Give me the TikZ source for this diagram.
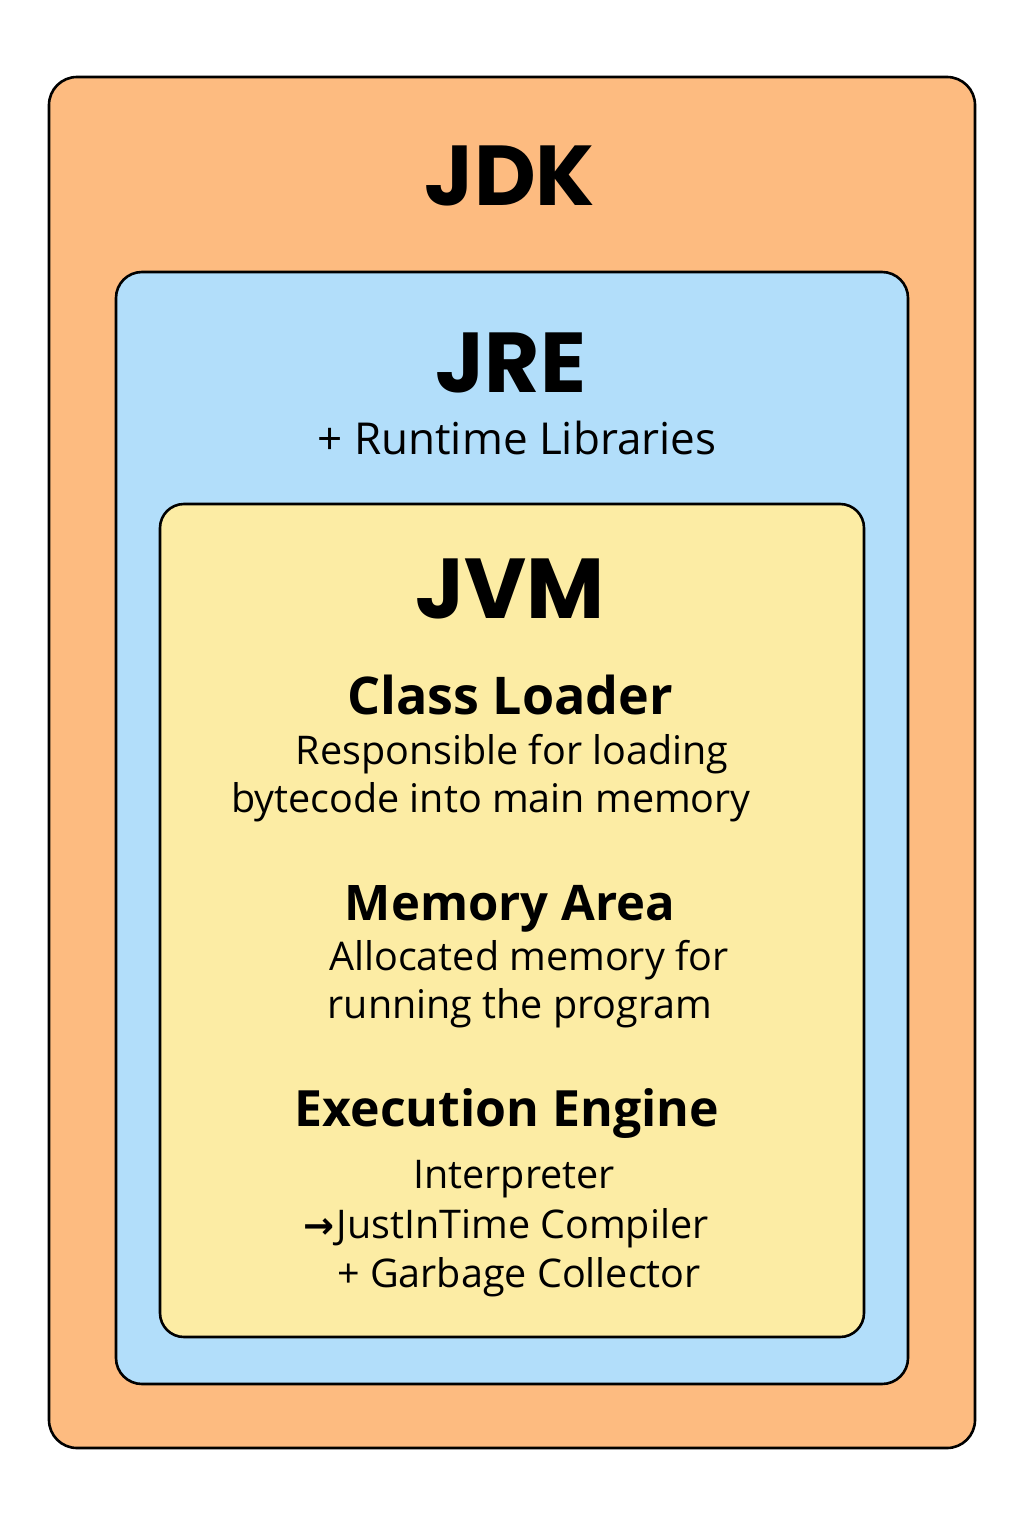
\documentclass[tikz,border=0pt]{standalone}
\usepackage{fontspec}
\setmainfont{Open Sans}
\newfontfamily\titlefont{Poppins}
\newfontfamily\arrowfont{DejaVu Sans}
\definecolor{jdkfill}{RGB}{253,187,128}
\definecolor{jrefill}{RGB}{178,222,250}
\definecolor{jvmfill}{RGB}{252,236,164}
\begin{document}
\begin{tikzpicture}[x=1pt,y=-1pt,
  box/.style={draw=black, line width=2.6pt, rounded corners=26pt, inner sep=0pt},
  txt/.style={anchor=base, inner sep=0pt, text=black},
  bigtitle/.style={txt, font=\titlefont\fontsize{85}{100}\selectfont\bfseries},
  subtitle/.style={txt, font=\fontsize{50}{60}\selectfont\bfseries},
  body/.style={txt, font=\fontsize{39.5}{48}\selectfont}]
\useasboundingbox (0,0) rectangle (1024,1536);
\fill[white] (0,0) rectangle (1024,1536);
\node[box, fill=jdkfill, minimum width=926pt, minimum height=1371pt, rounded corners=28pt] (jdk) at (512,762.5) {};
\node[box, fill=jrefill, minimum width=792pt, minimum height=1112pt] (jre) at (512,828) {};
\node[box, fill=jvmfill, minimum width=704pt, minimum height=833pt, rounded corners=24pt] (jvm) at (512,920.5) {};
\node[bigtitle] (jdkt) at (510,205) {JDK};
\node[bigtitle] (jret) at (511,392) {JRE};
\node[body, font=\fontsize{44}{50}\selectfont] (rtl) at (517,454) {+ Runtime Libraries};
\node[bigtitle] (jvmt) at (510,618) {JVM};
\node[subtitle, font=\fontsize{52}{60}\selectfont\bfseries] (cl) at (510,714) {Class Loader};
\node[body] (cl1) at (512,764) {Responsible for loading};
\node[body] (cl2) at (491,812) {bytecode into main memory};
\node[subtitle, font=\fontsize{49}{60}\selectfont\bfseries] (ma) at (510,920) {Memory Area};
\node[body] (ma1) at (529,970) {Allocated memory for};
\node[body] (ma2) at (520,1018) {running the program};
\node[subtitle] (ee) at (507,1126) {Execution Engine};
\node[body] (ee1) at (514,1188) {Interpreter};
\node[body] (ee2) at (506,1238) {{\arrowfont\bfseries\fontsize{37}{40}\selectfont →}\hspace{2pt}JustInTime Compiler};
\node[body] (ee3) at (519,1287) {+ Garbage Collector};
\end{tikzpicture}
\end{document}
